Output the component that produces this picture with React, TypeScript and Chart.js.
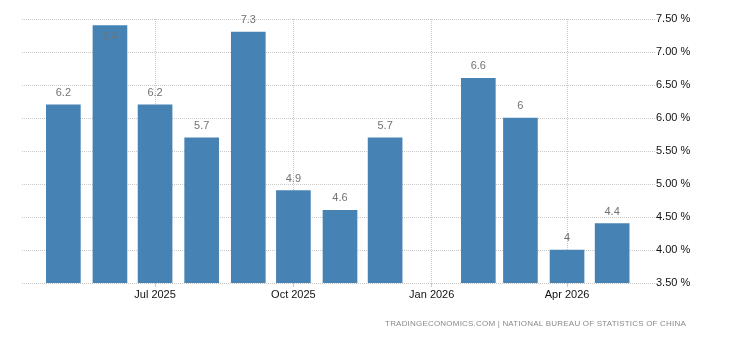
import React, { useEffect, useRef } from "react";
import { Chart, registerables } from "chart.js";

Chart.register(...registerables);

const months = [
  "2025-05", "2025-06", "2025-07", "2025-08", "2025-09", "2025-10", "2025-11",
  "2025-12", "2026-01", "2026-02", "2026-03", "2026-04", "2026-05",
];
const values: (number | null)[] = [6.2, 7.4, 6.2, 5.7, 7.3, 4.9, 4.6, 5.7, null, 6.6, 6.0, 4.0, 4.4];
const tickMonths = ["2025-07", "2025-10", "2026-01", "2026-04"];
const tickLabels = ["Jul 2025", "Oct 2025", "Jan 2026", "Apr 2026"];
const yTicks = [3.5, 4.0, 4.5, 5.0, 5.5, 6.0, 6.5, 7.0, 7.5];
const sourceText = "TRADINGECONOMICS.COM | NATIONAL BUREAU OF STATISTICS OF CHINA";

const DAY = 86400000;
const base = Date.UTC(2025, 4, 1);
const dayOf = (m: string) => {
  const [y, mo] = m.split("-").map(Number);
  return (Date.UTC(y, mo - 1, 1) - base) / DAY;
};

const FONT = "'Liberation Sans', Arial, sans-serif";

const labelPlugin = {
  id: "valueLabels",
  afterDatasetsDraw(chart: any) {
    const { ctx, chartArea } = chart;
    const meta = chart.getDatasetMeta(0);
    ctx.save();
    ctx.font = `11px ${FONT}`;
    ctx.fillStyle = "#737373";
    ctx.textAlign = "center";
    ctx.textBaseline = "middle";
    meta.data.forEach((bar: any, i: number) => {
      const v = values[i];
      if (v == null) return;
      let y = bar.y - 12;
      if (y < chartArea.top) y = bar.y + 11;
      ctx.fillText(String(v), bar.x, y);
    });
    ctx.restore();
  },
  afterDraw(chart: any) {
    const { ctx } = chart;
    ctx.save();
    ctx.font = `8px ${FONT}`;
    (ctx as any).letterSpacing = "0.2px";
    ctx.fillStyle = "#8a8a8a";
    ctx.textAlign = "right";
    ctx.textBaseline = "middle";
    ctx.fillText(sourceText, 686, 324);
    ctx.restore();
  },
};

export default function App() {
  const ref = useRef<HTMLCanvasElement>(null);
  useEffect(() => {
    if (!ref.current) return;
    const tickDays = tickMonths.map(dayOf);
    const chart = new Chart(ref.current, {
      type: "bar",
      data: {
        datasets: [
          {
            data: months.map((m, i) => ({ x: dayOf(m), y: values[i] as any })),
            backgroundColor: "#4682b4",
            barThickness: 34,
          } as any,
        ],
      },
      options: {
        responsive: false,
        animation: false,
        layout: { padding: { left: 22, top: 19, right: 0, bottom: 0 } },
        plugins: { legend: { display: false }, tooltip: { enabled: false } },
        scales: {
          x: {
            type: "linear",
            min: -27.5,
            max: 393.5,
            offset: false,
            afterBuildTicks: (scale: any) => {
              scale.ticks = tickDays.map((v) => ({ value: v }));
            },
            afterFit: (scale: any) => {
              scale.height = 57;
            },
            ticks: {
              autoSkip: false,
              maxRotation: 0,
              padding: 1,
              color: "#111",
              font: { family: FONT, size: 11 },
              callback: (v: any) => {
                const idx = tickDays.indexOf(Number(v));
                return idx >= 0 ? tickLabels[idx] : "";
              },
            },
            grid: {
              color: "#c8c8c8",
              tickLength: 4,
              offset: false,
              drawOnChartArea: true,
            },
            border: { display: false, dash: [1, 1] },
          },
          y: {
            position: "right",
            min: 3.5,
            max: 7.5,
            afterBuildTicks: (scale: any) => {
              scale.ticks = yTicks.map((v) => ({ value: v }));
            },
            afterFit: (scale: any) => {
              scale.width = 75;
            },
            ticks: {
              padding: 1,
              color: "#111",
              font: { family: FONT, size: 11 },
              callback: (v: any) => Number(v).toFixed(2) + " %",
            },
            grid: { color: "#c8c8c8", drawTicks: false },
            border: { display: false, dash: [1, 1] },
          },
        },
      } as any,
      plugins: [labelPlugin],
    });
    return () => chart.destroy();
  }, []);
  return (
    <div style={{ position: "fixed", left: 0, top: 0, width: 730, height: 340, background: "#fff" }}>
      <canvas ref={ref} width={730} height={340} style={{ width: 730, height: 340 }} />
    </div>
  );
}
